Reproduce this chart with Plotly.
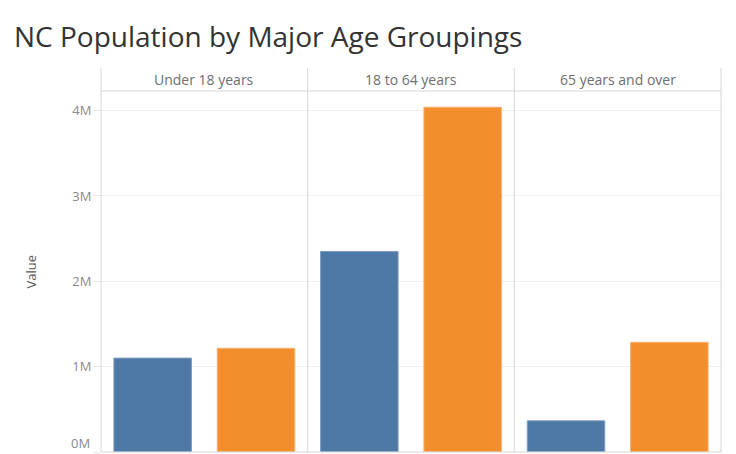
import plotly.graph_objects as go
from plotly.subplots import make_subplots

groups = ["Under 18 years", "18 to 64 years", "65 years and over"]
series_a = [1100000, 2350000, 365000]
series_b = [1215000, 4040000, 1285000]
tick_vals = [0, 1000000, 2000000, 3000000, 4000000]
tick_text = ["0M", "1M", "2M", "3M", "4M"]

BLUE = "#4e79a7"
ORANGE = "#f28e2b"
LINE = "#d6d6d6"
FONT = "Open Sans"

fig = make_subplots(rows=1, cols=3, shared_yaxes=True, horizontal_spacing=0)

for i, g in enumerate(groups):
    fig.add_trace(go.Bar(x=[0], y=[series_a[i]], width=0.75, name="Series A",
                         marker=dict(color=BLUE, line=dict(color="#7d9cc0", width=1)),
                         showlegend=False, hovertemplate=g + ": %{y}<extra></extra>"),
                  row=1, col=i + 1)
    fig.add_trace(go.Bar(x=[1], y=[series_b[i]], width=0.75, name="Series B",
                         marker=dict(color=ORANGE, line=dict(color="#f6b06e", width=1)),
                         showlegend=False, hovertemplate=g + ": %{y}<extra></extra>"),
                  row=1, col=i + 1)

H = 361.0  # plot height in px
hdr = 23.0 / H

for i in range(3):
    fig.update_xaxes(range=[-0.5, 1.5], showticklabels=False, showgrid=False,
                     zeroline=False, showline=False, fixedrange=True, row=1, col=i + 1)
    fig.update_yaxes(range=[0, 4230000], tickvals=tick_vals,
                     ticktext=[""] + tick_text[1:], showgrid=True, gridcolor="#f0f0f0",
                     gridwidth=1, zeroline=False, showline=False, row=1, col=i + 1)

fig.update_yaxes(ticks="outside", ticklen=6, tickcolor="#e6e6e6",
                 tickfont=dict(family=FONT, size=13, color="#8a8a8a"), row=1, col=1)

shapes = []
for xp in [0, 1 / 3, 2 / 3, 1]:
    shapes.append(dict(type="line", xref="paper", yref="paper", x0=xp, x1=xp,
                       y0=0, y1=1 + hdr, line=dict(color=LINE, width=1)))
shapes.append(dict(type="line", xref="paper", yref="paper", x0=0, x1=1, y0=1, y1=1,
                   line=dict(color=LINE, width=1)))
shapes.append(dict(type="line", xref="paper", yref="paper", x0=0, x1=1, y0=0, y1=0,
                   line=dict(color=LINE, width=1)))

annotations = []
for i, g in enumerate(groups):
    annotations.append(dict(text=g, xref="paper", yref="paper", x=(i + 0.5) / 3,
                            y=1 + hdr / 2, showarrow=False, xanchor="center", yanchor="middle",
                            font=dict(family=FONT, size=14, color="#6e6e6e")))
annotations.append(dict(text=tick_text[0], xref="paper", yref="paper", x=0, y=9 / H,
                        xshift=-9, showarrow=False, xanchor="right", yanchor="middle",
                        font=dict(family=FONT, size=13, color="#8a8a8a")))
annotations.append(dict(text="Value", xref="paper", yref="paper", x=0, y=0.5,
                        xshift=-71, showarrow=False, textangle=-90, xanchor="center",
                        yanchor="middle", font=dict(family=FONT, size=13, color="#555555")))
annotations.append(dict(text="NC Population by Major Age Groupings", xref="paper",
                        yref="paper", x=0, y=1, xshift=-89, yshift=55, showarrow=False,
                        xanchor="left", yanchor="middle",
                        font=dict(family=FONT, size=28, color="#333333")))

# page body has an 8px offset: figure is sized to fill the remaining window
fig.update_layout(
    width=728, height=446,
    margin=dict(l=93, r=15, t=83, b=2),
    paper_bgcolor="white", plot_bgcolor="white",
    barmode="overlay", shapes=shapes, annotations=annotations,
    showlegend=False,
)

fig.write_html("out.html")
